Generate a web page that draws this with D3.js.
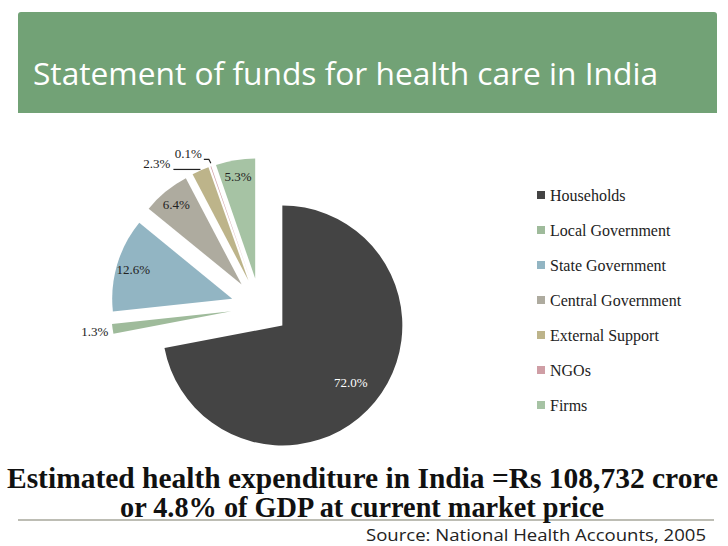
<!DOCTYPE html>
<html><head><meta charset="utf-8">
<script src="https://cdn.jsdelivr.net/npm/d3@7"></script>
<style>html,body{margin:0;padding:0;background:#fff;}svg{display:block;}</style>
</head><body>
<svg id="chart" width="728" height="546"></svg>
<script>
const title = "Statement of funds for health care in India";
const categories = ["Households","Local Government","State Government","Central Government","External Support","NGOs","Firms"];
const values = [72.0, 1.3, 12.6, 6.4, 2.3, 0.1, 5.3];
const colors = ["#444444","#9fbb9b","#92b5c3","#aeab9f","#bdb48a","#cf9ea5","#a6c3a4"];
const footLine1 = "Estimated health expenditure in India =Rs 108,732 crore";
const footLine2 = "or 4.8% of GDP at current market price";
const source = "Source: National Health Accounts, 2005";

const svg = d3.select("#chart");

// Title banner
svg.append("path")
  .attr("d", "M18,113 L18,15 Q18,12 21,12 L714,12 Q717,12 717,15 L717,113 Z")
  .attr("fill", "#72a276");
svg.append("text").attr("x", 33).attr("y", 85)
  .attr("font-family", "'Open Sans', sans-serif").attr("font-size", 31)
  .attr("fill", "#fff").attr("textLength", 625).attr("lengthAdjust", "spacingAndGlyphs")
  .text(title);

// Pie
const cx = 260, cy = 307, r = 120, explode = 29;
const pie = d3.pie().sort(null).value(d => d).startAngle(0).endAngle(2 * Math.PI);
const arcs = pie(values);
const arc = d3.arc().innerRadius(0).outerRadius(r);
const fmt = d => d3.format(".1f")(d) + "%";

const g = svg.append("g").attr("transform", `translate(${cx},${cy})`);
arcs.forEach((a, i) => {
  const mid = (a.startAngle + a.endAngle) / 2;
  a.mid = mid;
  a.ox = explode * Math.sin(mid);
  a.oy = -explode * Math.cos(mid);
});

g.selectAll("path.slice").data(arcs).enter().append("path")
  .attr("class", "slice")
  .attr("transform", d => `translate(${d.ox},${d.oy})`)
  .attr("d", arc)
  .attr("fill", (d, i) => colors[i]);

const labelFont = "'Liberation Serif', 'Times New Roman', serif";
arcs.forEach((a, i) => {
  const v = values[i];
  const sx = Math.sin(a.mid), sy = -Math.cos(a.mid);
  if (v >= 5) {
    const lr = v > 50 ? 0.74 * r : 0.86 * r;
    g.append("text")
      .attr("x", a.ox + lr * sx).attr("y", a.oy + lr * sy)
      .attr("dy", "0.35em").attr("text-anchor", "middle")
      .attr("font-family", labelFont).attr("font-size", 13)
      .attr("fill", v > 50 ? "#fff" : "#222").text(fmt(v));
  } else if (v >= 1 && v < 2) {
    const lr = 1.15 * r;
    g.append("text")
      .attr("x", a.ox + lr * sx).attr("y", a.oy + lr * sy)
      .attr("dy", "0.35em").attr("text-anchor", "middle")
      .attr("font-family", labelFont).attr("font-size", 13)
      .attr("fill", "#222").text(fmt(v));
  } else {
    const px = a.ox + r * sx, py = a.oy + r * sy;
    if (v >= 2) {
      g.append("path").attr("d", `M${px},${py - 1} L${px - 27},${py - 1}`)
        .attr("stroke", "#222").attr("stroke-width", 1.2).attr("fill", "none");
      g.append("text").attr("x", px - 30).attr("y", py - 2)
        .attr("text-anchor", "end").attr("font-family", labelFont).attr("font-size", 13)
        .attr("fill", "#222").text(fmt(v));
    } else {
      g.append("path").attr("d", `M${px},${py - 3} L${px - 2},${py - 7} L${px - 7},${py - 7}`)
        .attr("stroke", "#222").attr("stroke-width", 1.2).attr("fill", "none");
      g.append("text").attr("x", px - 9).attr("y", py - 8)
        .attr("text-anchor", "end").attr("font-family", labelFont).attr("font-size", 13)
        .attr("fill", "#222").text(fmt(v));
    }
  }
});

// Legend
const legendY = d3.scalePoint().domain(categories).range([195, 405]);
const lg = svg.append("g");
categories.forEach((c, i) => {
  const y = legendY(c);
  lg.append("rect").attr("x", 537).attr("y", y - 4).attr("width", 8).attr("height", 8).attr("fill", colors[i]);
  lg.append("text").attr("x", 550).attr("y", y).attr("dy", "0.35em")
    .attr("font-family", labelFont).attr("font-size", 16).attr("fill", "#222").text(c);
});

// Footer
svg.append("text").attr("x", 7).attr("y", 488)
  .attr("font-family", labelFont).attr("font-weight", "bold").attr("font-size", 29)
  .attr("fill", "#111").attr("textLength", 711).attr("lengthAdjust", "spacingAndGlyphs")
  .text(footLine1);
svg.append("line").attr("x1", 18).attr("x2", 714).attr("y1", 520).attr("y2", 520)
  .attr("stroke", "#7d7d6a").attr("stroke-width", 1.2);
svg.append("text").attr("x", 120).attr("y", 517)
  .attr("font-family", labelFont).attr("font-weight", "bold").attr("font-size", 29)
  .attr("fill", "#111").attr("textLength", 484).attr("lengthAdjust", "spacingAndGlyphs")
  .text(footLine2);
svg.append("text").attr("x", 366).attr("y", 541)
  .attr("font-family", "'Open Sans', sans-serif").attr("font-size", 17)
  .attr("fill", "#222").attr("textLength", 340).attr("lengthAdjust", "spacingAndGlyphs")
  .text(source);
</script>
</body></html>
